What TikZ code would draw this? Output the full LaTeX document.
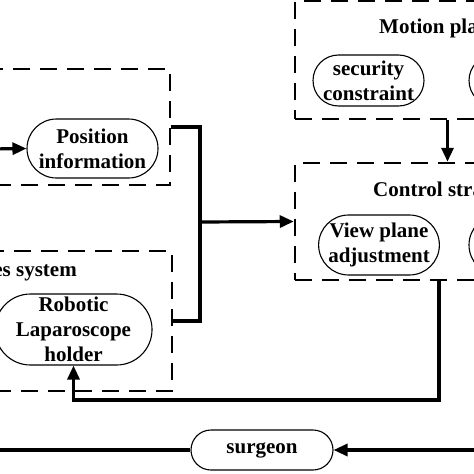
\documentclass[tikz,border=0pt]{standalone}
\usepackage{fontspec}
\setmainfont{Liberation Serif}
\usetikzlibrary{arrows.meta,shapes.misc}

\tikzset{
  block/.style={rounded rectangle,draw,line width=1.1pt,inner sep=0pt,align=center,
    font=\bfseries\fontsize{21}{25}\selectfont},
  groupbox/.style={draw,line width=2.5pt,dash pattern=on 17pt off 10pt,inner sep=0pt},
  grouplabel/.style={font=\bfseries\fontsize{21}{25}\selectfont,inner sep=0pt},
  conn/.style={line width=3.2pt},
  flow/.style={conn,-{Triangle[length=14pt,width=12pt]}}
}

\begin{document}
\begin{tikzpicture}[x=1pt,y=-1pt]
  \useasboundingbox (0,0) rectangle (474,474);
  \clip (0,0) rectangle (474,474);
  % dashed groups
  \node[groupbox,minimum width=230pt,minimum height=116pt] (posbox) at (55,127) {};
  \node[groupbox,minimum width=232pt,minimum height=140pt] (sysbox) at (56,321) {};
  \node[groupbox,minimum width=305pt,minimum height=118pt] (motbox) at (447.5,60) {};
  \node[groupbox,minimum width=305pt,minimum height=117pt] (ctrlbox) at (447.5,221.5) {};
  \node[grouplabel,anchor=west] at (379,29) {Motion planning};
  \node[grouplabel,anchor=west] at (373,192) {Control strategy};
  \node[grouplabel,anchor=east] at (77,273) {es system};
  % blocks
  \node[block,minimum width=131pt,minimum height=59pt] (posinfo) at (92.5,148.5) {Position\\information};
  \node[block,minimum width=129pt,minimum height=71pt] (holder) at (73.5,329.5) {Robotic\\Laparoscope\\holder};
  \node[block,minimum width=111pt,minimum height=51pt] (security) at (368.5,80.5) {security\\constraint};
  \node[block,minimum width=111pt,minimum height=51pt] (motnext) at (524.5,80.5) {};
  \node[block,minimum width=120pt,minimum height=60pt] (viewplane) at (379,245) {View plane\\adjustment};
  \node[block,minimum width=120pt,minimum height=60pt] (ctrlnext) at (529,245) {};
  \node[block,minimum width=142pt,minimum height=40pt] (surgeon) at (262,450) {surgeon};
  % connectors
  \coordinate (posin) at (-10,149);
  \coordinate (split) at (200,222);
  \coordinate (fb) at (439,400);
  \coordinate (surgl) at (-10,450);
  \coordinate (surgr) at (490,450);
  \draw[flow] (posin) -- (posinfo.west);
  \draw[conn] (posbox.east) -| (split);
  \draw[conn] (sysbox.east) -| (split);
  \draw[flow] (split) -- (ctrlbox.west);
  \draw[flow] (motbox.south) -- (ctrlbox.north);
  \draw[flow] (ctrlbox.south -| fb) -- (fb) -| (holder.south);
  \draw[conn] (surgl) -- (surgeon.west);
  \draw[flow] (surgr) -- (surgeon.east);
\end{tikzpicture}
\end{document}
